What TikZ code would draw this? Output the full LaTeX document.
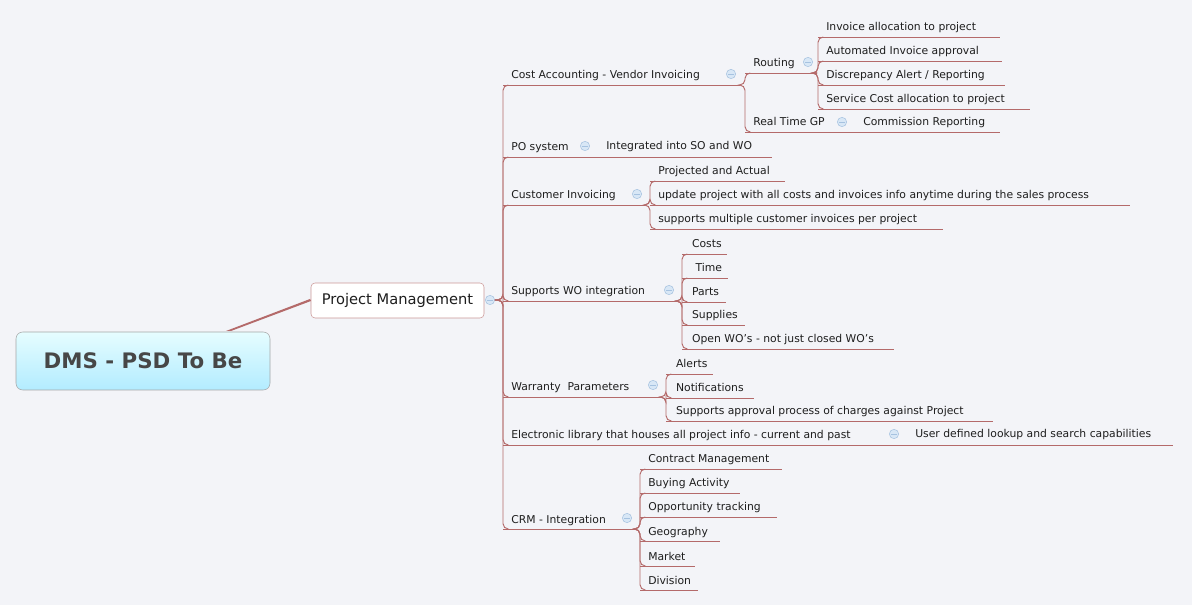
\documentclass[tikz,border=0pt]{standalone}
\usepackage{fontspec}
\setmainfont{DejaVu Sans}
\definecolor{bg}{HTML}{F3F4F8}
\definecolor{ln}{HTML}{B46A6A}
\definecolor{tx}{HTML}{1E1E1E}
\definecolor{icf}{HTML}{D8E7F6}
\definecolor{icd}{HTML}{A6C2E0}
\newcommand\mmleaf[5]{%
  \coordinate (#1-s) at (#2,#3);
  \coordinate (#1-e) at (#4,#3);
  \node[lf] (#1) at ([xshift=6]#1-s |- 0,#3-6) {#5};
  \draw[ul] (#1-s) -- (#1-e);}
\newcommand\mmicon[3]{\node[icn] (#1) at (#2,#3) {};}
\tikzset{
  lf/.style={anchor=base west,inner sep=0pt,font=\fontsize{8.1}{10}\selectfont,text=tx},
  ul/.style={draw=ln,line width=0.7pt},
  con/.style={draw=ln,line width=0.7pt,rounded corners=4pt},
  icn/.style={circle,draw=icd,fill=icf,minimum size=7pt,inner sep=0pt,line width=0.4pt,
    path picture={\draw[icd,line width=0.6pt] ([xshift=-2pt]path picture bounding box.center) -- ([xshift=2pt]path picture bounding box.center);}},
}
\begin{document}
\begin{tikzpicture}[x=0.75pt,y=-0.75pt]
\fill[bg] (0,0) rectangle (1192,605);
\useasboundingbox (0,0) rectangle (1192,605);
% root
\node[draw=gray!70,rounded corners=5pt,top color=blue!8!cyan!10,bottom color=blue!25!cyan!30!white,
  minimum width=190.5pt,minimum height=43.5pt,inner sep=0pt,font=\fontsize{16}{18}\bfseries\selectfont,text=black!72]
  (root) at (143,361) {DMS - PSD To Be};
\node[draw=ln!70,fill=white,rounded corners=3pt,minimum width=129.75pt,minimum height=26.25pt,inner sep=0pt,
  font=\fontsize{11}{13}\selectfont,text=tx] (pm) at (397.5,300.5) {Project Management};
\fill[ln] (226,331) -- (310,299) -- (311,301) -- (231,331) -- cycle;
\mmicon{pmi}{490}{300}
% level 1
\mmleaf{ca}{503}{85}{740}{Cost Accounting - Vendor Invoicing}
\mmleaf{po}{503}{157}{772}{PO system}
\mmleaf{ci}{503}{205}{645}{Customer Invoicing}
\mmleaf{wo}{503}{301}{678}{Supports WO integration}
\mmleaf{wa}{503}{397}{662}{Warranty\ \ Parameters}
\mmleaf{el}{503}{445}{903}{Electronic library that houses all project info - current and past}
\mmleaf{crm}{503}{529}{636}{CRM - Integration}
\foreach \c in {ca,po,ci,wo,wa,el,crm}{\draw[con] (pmi.east) -- (503,300) -- (\c-s) -- ([xshift=4]\c-s);}
% cost accounting
\mmicon{cai}{731}{74}
\mmleaf{ro}{745}{73}{817}{Routing}
\mmleaf{rt}{745}{132}{1000}{Real Time GP}
\foreach \c in {ro,rt}{\draw[con] (ca-e) -- (745,85) -- (\c-s) -- ([xshift=4]\c-s);}
\mmicon{roi}{808}{62}
\mmleaf{r1}{818}{37}{1000}{Invoice allocation to project}
\mmleaf{r2}{818}{61}{1002}{Automated Invoice approval}
\mmleaf{r3}{818}{85}{1005}{Discrepancy Alert / Reporting}
\mmleaf{r4}{818}{109}{1030}{Service Cost allocation to project}
\foreach \c in {r1,r2,r3,r4}{\draw[con] (ro-e) -- (818,73) -- (\c-s) -- ([xshift=4]\c-s);}
\mmicon{rti}{842}{122}
\node[lf] (cr) at (863,126) {Commission Reporting};
% PO
\mmicon{poi}{585}{146}
\node[lf] (int) at (606,150) {Integrated into SO and WO};
% customer invoicing
\mmicon{cii}{637}{194}
\mmleaf{c1}{650}{181}{785}{Projected and Actual}
\mmleaf{c2}{650}{205}{1130}{update project with all costs and invoices info anytime during the sales process}
\mmleaf{c3}{650}{229}{943}{supports multiple customer invoices per project}
\foreach \c in {c1,c2,c3}{\draw[con] (ci-e) -- (650,205) -- (\c-s) -- ([xshift=4]\c-s);}
% WO
\mmicon{woi}{669}{290}
\mmleaf{w1}{682}{254}{727}{\,Costs}
\mmleaf{w2}{682}{278}{728}{\ \,Time}
\mmleaf{w3}{682}{302}{726}{\,Parts}
\mmleaf{w4}{682}{325}{745}{\,Supplies}
\mmleaf{w5}{682}{349}{894}{\,Open WO's - not just closed WO's}
\foreach \c in {w1,w2,w3,w4,w5}{\draw[con] (wo-e) -- (682,301) -- (\c-s) -- ([xshift=4]\c-s);}
% warranty
\mmicon{wai}{653}{385}
\mmleaf{a1}{666}{374}{713}{\,Alerts}
\mmleaf{a2}{666}{398}{754}{\,Notifications}
\mmleaf{a3}{666}{421}{993}{\,Supports approval process of charges against Project}
\foreach \c in {a1,a2,a3}{\draw[con] (wa-e) -- (666,397) -- (\c-s) -- ([xshift=4]\c-s);}
% electronic library
\mmicon{eli}{894}{434}
\node[lf] (ud) at (915,438) {User defined lookup and search capabilities};
\coordinate (ude) at (1173,445);
\draw[ul] (el-e) -- (ude);
% CRM
\mmicon{crmi}{627}{518}
\mmleaf{m1}{640}{469}{782}{Contract Management}
\mmleaf{m2}{640}{493}{740}{Buying Activity}
\mmleaf{m3}{640}{517}{777}{Opportunity tracking}
\mmleaf{m4}{640}{541}{720}{Geography}
\mmleaf{m5}{640}{566}{695}{Market}
\mmleaf{m6}{640}{590}{698}{Division}
\foreach \c in {m1,m2,m3,m4,m5,m6}{\draw[con] (crm-e) -- (640,529) -- (\c-s) -- ([xshift=4]\c-s);}
\end{tikzpicture}
\end{document}
